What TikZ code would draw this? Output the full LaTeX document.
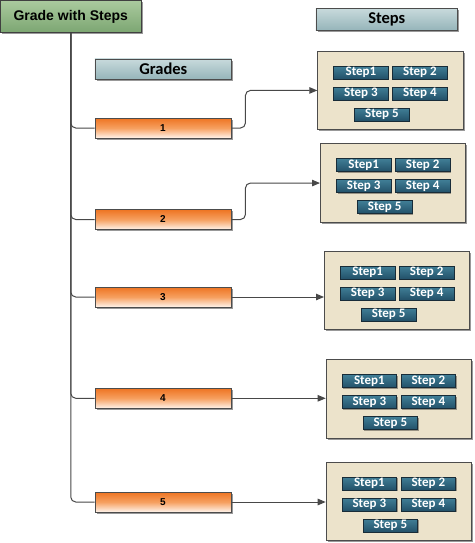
\documentclass[tikz,border=0pt]{standalone}
\usepackage{fontspec}
\setmainfont{Liberation Sans}
\newfontfamily\carl{Carlito}
\usetikzlibrary{shadows,arrows.meta}
\definecolor{gtop}{RGB}{170,202,158}
\definecolor{gbot}{RGB}{124,166,114}
\definecolor{htop}{RGB}{200,218,220}
\definecolor{hbot}{RGB}{150,181,186}
\definecolor{otop}{RGB}{238,116,34}
\definecolor{omid}{RGB}{246,160,96}
\definecolor{obot}{RGB}{255,244,236}
\definecolor{panelfill}{RGB}{236,227,203}
\definecolor{btop}{RGB}{64,126,150}
\definecolor{bbot}{RGB}{34,80,104}
\definecolor{bdraw}{RGB}{24,44,56}
\definecolor{linec}{RGB}{72,72,72}
\tikzset{
  shad/.style={drop shadow={shadow xshift=1.6pt,shadow yshift=-1.6pt,opacity=0.4,fill=black}},
  topbox/.style={shad,draw=black!75,line width=1pt,top color=gtop,bottom color=gbot,
    minimum width=140.5pt,minimum height=32pt,inner sep=0pt,
    font=\bfseries\fontsize{14}{16}\selectfont},
  hdrbox/.style={shad,draw=black!70,line width=0.9pt,top color=htop,bottom color=hbot,
    inner sep=0pt,font=\carl\bfseries\fontsize{16.5}{18}\selectfont},
  gradebox/.style={shad,draw=black!70,line width=0.9pt,top color=otop,bottom color=obot,
    middle color=omid,minimum width=136pt,minimum height=20pt,inner sep=0pt,
    font=\bfseries\fontsize{10}{11}\selectfont},
  panelbox/.style={shad,draw=black!70,line width=1pt,fill=panelfill,
    minimum width=145.3pt,minimum height=78.5pt,inner sep=0pt},
  stepbtn/.style={drop shadow={shadow xshift=1.2pt,shadow yshift=-1.2pt,opacity=0.35,fill=black},
    draw=bdraw,line width=0.8pt,top color=btop,bottom color=bbot,text=white,
    minimum width=54.5pt,minimum height=13pt,inner sep=0pt,
    font=\carl\bfseries\fontsize{13}{13}\selectfont},
  trunk/.style={draw=linec,line width=1pt,rounded corners=5pt},
  arr/.style={draw=linec,line width=1pt,rounded corners=5pt,-{Triangle[length=8pt,width=6.5pt]}},
}
\newcommand\stepgroup[3]{%
  \node[panelbox,anchor=north west] (#1) at (#2,#3) {};
  \node[stepbtn,anchor=north west] (#1-s1) at ([shift={(16,15)}]#1.north west) {Step1};
  \node[stepbtn,anchor=north west] (#1-s2) at ([shift={(75,15)}]#1.north west) {Step 2};
  \node[stepbtn,anchor=north west] (#1-s3) at ([shift={(16,36)}]#1.north west) {Step 3};
  \node[stepbtn,anchor=north west] (#1-s4) at ([shift={(75,36)}]#1.north west) {Step 4};
  \node[stepbtn,anchor=north west] (#1-s5) at ([shift={(37,57)}]#1.north west) {Step 5};
}
\begin{document}
\begin{tikzpicture}[x=1pt,y=-1pt]
\useasboundingbox[fill=white] (0,0) rectangle (474,543);
% top node
\node[topbox] (top) at (70.75,16.5) {Grade with Steps};
% headers
\node[hdrbox,minimum width=136.7pt,minimum height=20pt] (grades) at (163.3,69) {Grades};
\node[hdrbox,minimum width=141.7pt,minimum height=21.7pt] (steps) at (386.8,19.2) {Steps};
% grade boxes
\node[gradebox] (g1) at (163,128) {1};
\node[gradebox] (g2) at (163,219.5) {2};
\node[gradebox] (g3) at (163,297) {3};
\node[gradebox] (g4) at (163,398.3) {4};
\node[gradebox] (g5) at (163,502) {5};
% step panels
\stepgroup{p1}{317.3}{50.7}
\stepgroup{p2}{320}{143.3}
\stepgroup{p3}{324}{250.7}
\stepgroup{p4}{325.7}{359.3}
\stepgroup{p5}{325.7}{461.7}
% trunk and branches
\draw[trunk] (top.south) |- (g5.west);
\draw[trunk] (top.south) |- (g4.west);
\draw[trunk] (top.south) |- (g3.west);
\draw[trunk] (top.south) |- (g2.west);
\draw[trunk] (top.south) |- (g1.west);
% arrows
\draw[arr] (g1.east) -- ++(14,0) |- (p1.west);
\draw[arr] (g2.east) -- ++(14,0) |- (p2.west);
\draw[arr] (g3.east) -- (g3.east -| p3.west);
\draw[arr] (g4.east) -- (g4.east -| p4.west);
\draw[arr] (g5.east) -- (g5.east -| p5.west);
\end{tikzpicture}
\end{document}
